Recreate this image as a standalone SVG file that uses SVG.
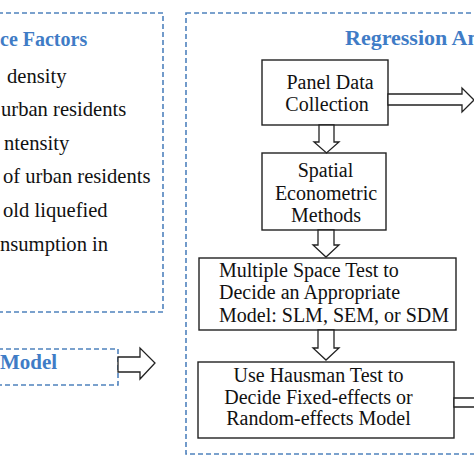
<svg xmlns="http://www.w3.org/2000/svg" width="474" height="474" viewBox="0 0 474 474">
<style>
.dash{fill:none;stroke:#4f82bd;stroke-width:1.6;stroke-dasharray:5 3}
.box{fill:#fff;stroke:#222;stroke-width:1.4}
.arr{fill:#fff;stroke:#222;stroke-width:1.3;stroke-linejoin:miter}
.t{font-family:"Liberation Serif","Times New Roman",serif;font-size:20px;fill:#111}
.l{font-family:"Liberation Serif","Times New Roman",serif;font-size:20.6px;fill:#111}
.h{font-family:"Liberation Serif","Times New Roman",serif;font-weight:bold;fill:#3f7cc6}
.c{text-anchor:middle}
</style>
<rect width="474" height="474" fill="#fff"/>
<g id="factors">
<rect class="dash" x="-10" y="13" width="173" height="299"/>
<text class="h" x="0" y="46" font-size="20">ce Factors</text>
<text class="l" x="7" y="83">density</text>
<text class="l" x="1" y="116">urban residents</text>
<text class="l" x="4" y="150">ntensity</text>
<text class="l" x="3" y="183">of urban residents</text>
<text class="l" x="3" y="217">old liquefied</text>
<text class="l" x="0" y="251">nsumption in</text>
</g>
<g id="model">
<rect class="dash" x="-10" y="349" width="128" height="36"/>
<text class="h" x="0" y="369" font-size="21">Model</text>
</g>
<g id="regression">
<rect class="dash" x="186" y="13" width="300" height="441"/>
<text class="h" x="345" y="45" font-size="22">Regression An</text>
</g>
<g id="panel">
<rect class="box" x="262" y="60" width="126" height="65"/>
<text class="t c" x="330" y="89">Panel Data</text>
<text class="t c" x="327" y="111">Collection</text>
</g>
<g id="spatial">
<rect class="box" x="262" y="153" width="124" height="77"/>
<text class="t c" x="325.5" y="177">Spatial</text>
<text class="t c" x="326" y="200">Econometric</text>
<text class="t c" x="326" y="222">Methods</text>
</g>
<g id="multiple">
<rect class="box" x="199" y="258" width="257" height="72"/>
<text class="t" x="219" y="277">Multiple Space Test to</text>
<text class="t" x="219" y="299">Decide an Appropriate</text>
<text class="t" x="219" y="322">Model: SLM, SEM, or SDM</text>
</g>
<g id="hausman">
<rect class="box" x="198" y="362" width="256" height="76"/>
<text class="t c" x="318.5" y="382">Use Hausman Test to</text>
<text class="t c" x="318.5" y="404">Decide Fixed-effects or</text>
<text class="t c" x="318.5" y="425">Random-effects Model</text>
</g>
<g id="connectors">
<polygon class="arr" points="319,125 319,142 314,142 326.5,153 339,142 334,142 334,125"/>
<polygon class="arr" points="318,230 318,245 313,245 326,257 339,245 334,245 334,230"/>
<polygon class="arr" points="318,330 318,348 313,348 326,360 339,348 334,348 334,330"/>
<polygon class="arr" points="388,94 462,94 462,88 474,100 462,112 462,105 388,105"/>
<polygon class="arr" points="454,398 480,398 480,407 454,407"/>
<polygon class="arr" points="118,357 140,357 140,348 155,363 140,379 140,372 118,372"/>
</g>
</svg>
